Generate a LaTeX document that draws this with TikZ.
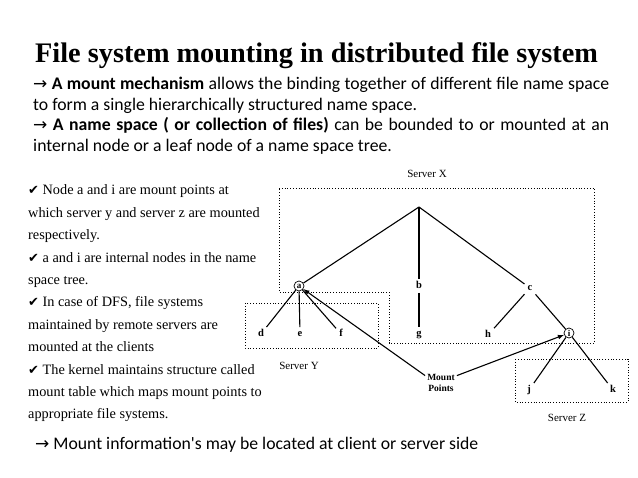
\documentclass[tikz,border=0pt]{standalone}
\usepackage{fontspec}
\newfontfamily\titlefont{Liberation Serif}
\newfontfamily\bodyfont{Carlito}
\newfontfamily\symfont{DejaVu Sans}
\newcommand{\tickmark}{{\symfont\fontsize{13}{13}\selectfont ✔}}
\newcommand{\pointer}{{\symfont\fontsize{17}{17}\selectfont →}}
\tikzset{
  treeline/.style={line width=1.1pt},
  serverbox/.style={dotted, line width=0.8pt},
  leaf/.style={font=\titlefont\bfseries\fontsize{10.5}{10.5}\selectfont, inner sep=3pt, text height=6.5pt, text depth=1pt},
  mountpt/.style={draw, circle, line width=0.7pt, inner sep=0pt, minimum size=10pt, font=\titlefont\bfseries\fontsize{9}{9}\selectfont},
  servername/.style={font=\titlefont\fontsize{11}{11}\selectfont},
  listline/.style={anchor=base west, inner sep=0pt, font=\titlefont\fontsize{14.3}{14.3}\selectfont},
  bodyline/.style={anchor=base west, inner sep=0pt, font=\bodyfont\fontsize{17.7}{17.7}\selectfont},
}
\begin{document}
\begin{tikzpicture}[x=1pt, y=-1pt]
			%%%%% START %%%%%
			\useasboundingbox[fill=white] (0, 0) rectangle (638, 478);
			
			\node[anchor=base west, inner sep=0pt, font=\titlefont\bfseries\fontsize{28.3}{28.3}\selectfont] (title) at (35, 63) {File system mounting in distributed file system};
			
			\node[bodyline] (body1) at (33, 90) {\makebox[576pt][s]{\pointer{} \textbf{A mount mechanism} allows the binding together of different file name space}};
			\node[bodyline] (body2) at (33, 110.5) {to form a single hierarchically structured name space.};
			\node[bodyline] (body3) at (33, 131) {\makebox[576pt][s]{\pointer{} \textbf{A name space ( or collection of files)} can be bounded to or mounted at an}};
			\node[bodyline] (body4) at (33, 151.5) {internal node or a leaf node of a name space tree.};
			
			\node[listline] (list1) at (28, 195) {\tickmark{} Node a and i are mount points at};
			\node[listline] (list2) at (28, 217.4) {which server y and server z are mounted};
			\node[listline] (list3) at (28, 239.8) {respectively.};
			\node[listline] (list4) at (28, 262.2) {\tickmark{} a and i are internal nodes in the name};
			\node[listline] (list5) at (28, 284.6) {space tree.};
			\node[listline] (list6) at (28, 307) {\tickmark{} In case of DFS, file systems};
			\node[listline] (list7) at (28, 329.4) {maintained by remote servers are};
			\node[listline] (list8) at (28, 351.8) {mounted at the clients};
			\node[listline] (list9) at (28, 374.2) {\tickmark{} The kernel maintains structure called};
			\node[listline] (list10) at (28, 396.6) {mount table which maps mount points to};
			\node[listline] (list11) at (28, 419) {appropriate file systems.};
			
			\node[bodyline] (body5) at (35, 450) {\pointer{} Mount information's may be located at client or server side};
			
			% server boxes
			\draw[serverbox] (279, 188) -- (594, 188) -- (594, 343) -- (389, 343) -- (389, 292) -- (279, 292) -- cycle;
			\draw[serverbox] (245, 303) rectangle (378, 348);
			\draw[serverbox] (515, 359) rectangle (628, 402);
			\node[servername] (serverx) at (427, 174) {Server X};
			\node[servername] (servery) at (299, 366) {Server Y};
			\node[servername] (serverz) at (567, 418) {Server Z};
			
			% name space tree
			\coordinate (root) at (419, 207);
			\node[mountpt] (a) at (299, 286) {a};
			\node[leaf] (b) at (419, 286) {b};
			\node[leaf] (c) at (530, 288) {c};
			\node[leaf] (d) at (261, 334) {d};
			\node[leaf] (e) at (300, 334) {e};
			\node[leaf] (f) at (341, 334) {f};
			\node[leaf] (g) at (419, 334) {g};
			\node[leaf] (h) at (488, 335) {h};
			\node[mountpt] (i) at (569, 333) {i};
			\node[leaf] (j) at (529, 390) {j};
			\node[leaf] (k) at (613, 390) {k};
			
			\draw[treeline] (root) -- (a);
			\draw[treeline] (root) -- (b);
			\draw[treeline] (root) -- (c);
			\draw[treeline] (a) -- (d);
			\draw[treeline] (a) -- (e);
			\draw[treeline] (a) -- (f);
			\draw[treeline] (b) -- (g);
			\draw[treeline] (c) -- (h);
			\draw[treeline] (c) -- (i);
			\draw[treeline] (i) -- (j);
			\draw[treeline] (i) -- (k);
			
			\node[servername, font=\titlefont\bfseries\fontsize{9.5}{11}\selectfont, align=center, inner sep=2pt] (mp) at (441, 383) {Mount\\Points};
			\draw[treeline, -latex] (mp.155) -- (a);
			\draw[treeline, -latex] (mp.25) -- (i);
			
			%%%%% END %%%%%
		\end{tikzpicture}
\end{document}
